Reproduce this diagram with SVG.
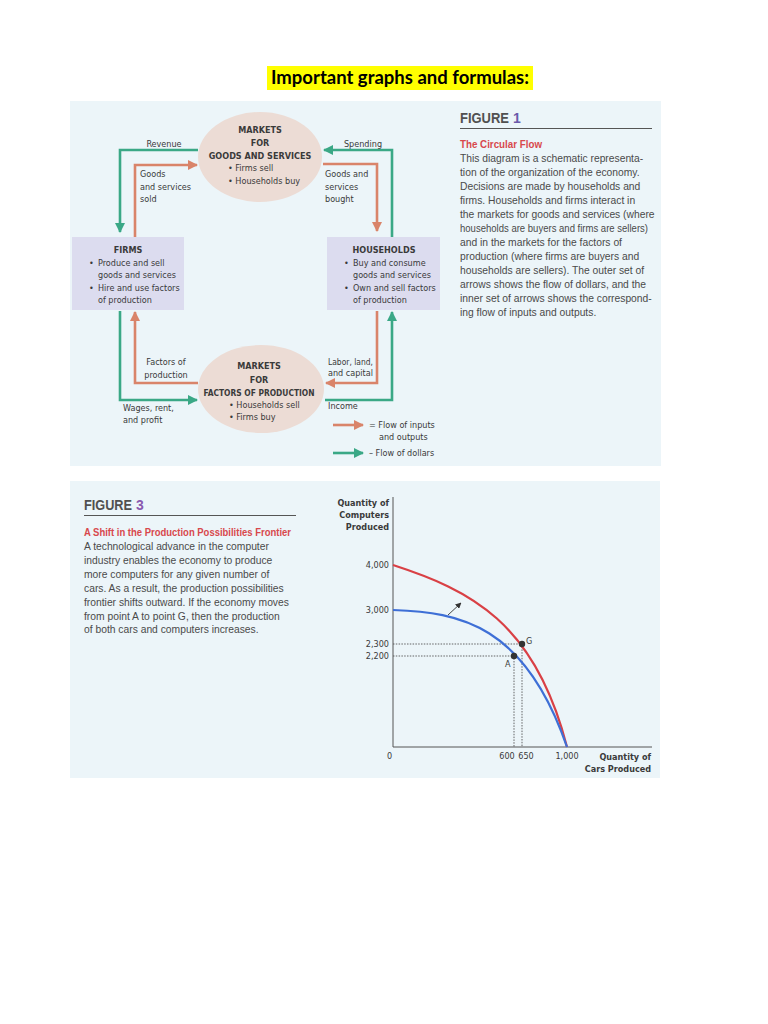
<svg xmlns="http://www.w3.org/2000/svg" width="768" height="1024" viewBox="0 0 768 1024">
<defs>
<style>
.t{font-family:"Liberation Sans Narrow","DejaVu Sans Condensed","Roboto",sans-serif;font-size:9px;fill:#3a3a3a}
.b{font-weight:bold}
.body{font-family:"Liberation Sans","Arial",sans-serif;font-size:10.3px;fill:#4a4a4a}
.fig{font-family:"Liberation Sans","Arial",sans-serif;font-size:14px;font-weight:bold;fill:#505050}
.num1{fill:#6a5aaa}
.num3{fill:#8a5ab0}
.red{fill:#d8484c;font-weight:bold}
.g{fill:none;stroke:#3aa886;stroke-width:2.6}
.o{fill:none;stroke:#d9846a;stroke-width:2.6}
.dot{fill:none;stroke:#555;stroke-width:0.9;stroke-dasharray:1.5 1.3}
</style>
<marker id="ag" viewBox="0 0 10 10" refX="9" refY="5" markerWidth="10" markerHeight="10" markerUnits="userSpaceOnUse" orient="auto"><path d="M0,0 L10,5 L0,10 z" fill="#3aa886"/></marker>
<marker id="ao" viewBox="0 0 10 10" refX="9" refY="5" markerWidth="10" markerHeight="10" markerUnits="userSpaceOnUse" orient="auto"><path d="M0,0 L10,5 L0,10 z" fill="#d9846a"/></marker>
<marker id="ak" viewBox="0 0 10 10" refX="9" refY="5" markerWidth="6" markerHeight="6" markerUnits="userSpaceOnUse" orient="auto"><path d="M0,0 L10,5 L0,10 z" fill="#333"/></marker>
</defs>
<rect width="768" height="1024" fill="#ffffff"/>

<g id="title">
<rect x="267" y="66" width="266" height="24" fill="#ffff00"/>
<text x="400" y="84" text-anchor="middle" font-family="Lato,'Open Sans',sans-serif" font-weight="bold" font-size="18" fill="#000" textLength="258" lengthAdjust="spacingAndGlyphs">Important graphs and formulas:</text>
</g>

<g id="figure1-bg"><rect x="70" y="101" width="591" height="365" fill="#ecf5f9"/></g>

<g id="connectors">
<path class="g" d="M198,150 H120 V232" marker-end="url(#ag)"/>
<path class="o" d="M135,237 V165 H197" marker-end="url(#ao)"/>
<path class="g" d="M392,237 V150 H324" marker-end="url(#ag)"/>
<path class="o" d="M323,164 H377 V231" marker-end="url(#ao)"/>
<path class="o" d="M198,383 H135 V312" marker-end="url(#ao)"/>
<path class="g" d="M120,311 V400 H197" marker-end="url(#ag)"/>
<path class="o" d="M377,311 V383 H326" marker-end="url(#ao)"/>
<path class="g" d="M325,400 H392 V312" marker-end="url(#ag)"/>
<path class="o" d="M333,425 H363" marker-end="url(#ao)"/>
<path class="g" d="M333,453 H363" marker-end="url(#ag)"/>
</g>

<g id="markets-goods">
<ellipse cx="260" cy="157" rx="62" ry="45" fill="#ecdcd5"/>
<text class="t b" x="260" y="133" text-anchor="middle">MARKETS</text>
<text class="t b" x="260" y="146" text-anchor="middle">FOR</text>
<text class="t b" x="260" y="159" text-anchor="middle">GOODS AND SERVICES</text>
<text class="t" x="228" y="171">•  Firms sell</text>
<text class="t" x="228" y="184">•  Households buy</text>
</g>

<g id="firms">
<rect x="72" y="237" width="112" height="73" fill="#dcdcef"/>
<text class="t b" x="128" y="253" text-anchor="middle">FIRMS</text>
<text class="t" x="89" y="265.5">•</text><text class="t" x="98" y="265.5">Produce and sell</text>
<text class="t" x="98" y="278">goods and services</text>
<text class="t" x="89" y="290.5">•</text><text class="t" x="98" y="290.5">Hire and use factors</text>
<text class="t" x="98" y="303">of production</text>
</g>

<g id="households">
<rect x="327" y="237" width="113" height="73" fill="#dcdcef"/>
<text class="t b" x="384" y="253" text-anchor="middle">HOUSEHOLDS</text>
<text class="t" x="344" y="265.5">•</text><text class="t" x="353" y="265.5">Buy and consume</text>
<text class="t" x="353" y="278">goods and services</text>
<text class="t" x="344" y="290.5">•</text><text class="t" x="353" y="290.5">Own and sell factors</text>
<text class="t" x="353" y="303">of production</text>
</g>

<g id="markets-factors">
<ellipse cx="261" cy="389" rx="63" ry="44" fill="#ecdcd5"/>
<text class="t b" x="259" y="369" text-anchor="middle">MARKETS</text>
<text class="t b" x="259" y="382.5" text-anchor="middle">FOR</text>
<text class="t b" x="259" y="396" text-anchor="middle" textLength="111" lengthAdjust="spacingAndGlyphs">FACTORS OF PRODUCTION</text>
<text class="t" x="229" y="408">•  Households sell</text>
<text class="t" x="229" y="420">•  Firms buy</text>
</g>

<g id="flow-labels">
<text class="t" x="164" y="147" text-anchor="middle">Revenue</text>
<text class="t" x="140" y="177">Goods</text>
<text class="t" x="140" y="190">and services</text>
<text class="t" x="140" y="202">sold</text>
<text class="t" x="363" y="147" text-anchor="middle">Spending</text>
<text class="t" x="325" y="177">Goods and</text>
<text class="t" x="325" y="190">services</text>
<text class="t" x="325" y="202">bought</text>
<text class="t" x="166" y="365" text-anchor="middle">Factors of</text>
<text class="t" x="166" y="378" text-anchor="middle">production</text>
<text class="t" x="123" y="411">Wages, rent,</text>
<text class="t" x="123" y="423">and profit</text>
<text class="t" x="328" y="364.5" textLength="45" lengthAdjust="spacingAndGlyphs">Labor, land,</text>
<text class="t" x="328" y="376">and capital</text>
<text class="t" x="328" y="409">Income</text>
</g>

<g id="legend">
<text class="t" x="369" y="428">= Flow of inputs</text>
<text class="t" x="379" y="440">and outputs</text>
<text class="t" x="369" y="456">– Flow of dollars</text>
</g>

<g id="figure1-caption">
<text class="fig" x="460" y="123" textLength="49" lengthAdjust="spacingAndGlyphs">FIGURE</text>
<text class="fig num1" x="513" y="123">1</text>
<line x1="460" y1="128.5" x2="652" y2="128.5" stroke="#555" stroke-width="1"/>
<text class="body red" x="460" y="148" font-size="11" textLength="82" lengthAdjust="spacingAndGlyphs">The Circular Flow</text>
<text class="body" x="460" y="161.5">This diagram is a schematic representa-</text>
<text class="body" x="460" y="175.5">tion of the organization of the economy.</text>
<text class="body" x="460" y="189.5">Decisions are made by households and</text>
<text class="body" x="460" y="203.5">firms. Households and firms interact in</text>
<text class="body" x="460" y="217.5">the markets for goods and services (where</text>
<text class="body" x="460" y="231.5" textLength="188" lengthAdjust="spacingAndGlyphs">households are buyers and firms are sellers)</text>
<text class="body" x="460" y="245.5">and in the markets for the factors of</text>
<text class="body" x="460" y="259.5">production (where firms are buyers and</text>
<text class="body" x="460" y="273.5">households are sellers). The outer set of</text>
<text class="body" x="460" y="287.5">arrows shows the flow of dollars, and the</text>
<text class="body" x="460" y="301.5">inner set of arrows shows the correspond-</text>
<text class="body" x="460" y="316">ing flow of inputs and outputs.</text>
</g>

<g id="figure3-bg"><rect x="70" y="481" width="590" height="297" fill="#ecf5f9"/></g>

<g id="figure3-caption">
<text class="fig" x="84" y="510" textLength="48" lengthAdjust="spacingAndGlyphs">FIGURE</text>
<text class="fig num3" x="136" y="510">3</text>
<line x1="84" y1="515.5" x2="296" y2="515.5" stroke="#555" stroke-width="1"/>
<text class="body red" x="84" y="536" textLength="207" lengthAdjust="spacingAndGlyphs">A Shift in the Production Possibilities Frontier</text>
<text class="body" x="84" y="549.5">A technological advance in the computer</text>
<text class="body" x="84" y="563.5">industry enables the economy to produce</text>
<text class="body" x="84" y="577.5">more computers for any given number of</text>
<text class="body" x="84" y="591.5">cars. As a result, the production possibilities</text>
<text class="body" x="84" y="605.5">frontier shifts outward. If the economy moves</text>
<text class="body" x="84" y="619.5">from point A to point G, then the production</text>
<text class="body" x="84" y="633">of both cars and computers increases.</text>
</g>

<g id="ppf-graph">
<line x1="393" y1="497" x2="393" y2="747" stroke="#555" stroke-width="1"/>
<line x1="393" y1="747" x2="652" y2="747" stroke="#555" stroke-width="1"/>
<text class="t b" x="389" y="506" text-anchor="end">Quantity of</text>
<text class="t b" x="389" y="518" text-anchor="end">Computers</text>
<text class="t b" x="389" y="530" text-anchor="end">Produced</text>
<text class="t" x="389" y="568" text-anchor="end">4,000</text>
<text class="t" x="389" y="613" text-anchor="end">3,000</text>
<text class="t" x="389" y="647" text-anchor="end">2,300</text>
<text class="t" x="389" y="659" text-anchor="end">2,200</text>
<path class="dot" d="M393,644 H522 V747 M393,656 H514 V747"/>
<path d="M393,565 C470,590 535,622 567,747" fill="none" stroke="#d94045" stroke-width="2.2"/>
<path d="M393,610 C460,612 525,625 567,747" fill="none" stroke="#3e6fd6" stroke-width="2.2"/>
<line x1="448" y1="615" x2="461" y2="603" stroke="#333" stroke-width="0.9" marker-end="url(#ak)"/>
<circle cx="522" cy="644" r="3.2" fill="#333"/>
<circle cx="514" cy="656" r="3.2" fill="#333"/>
<text class="t" x="526" y="644">G</text>
<text class="t" x="505" y="667">A</text>
<text class="t" x="387" y="759">0</text>
<text class="t" x="507" y="759" text-anchor="middle">600</text>
<text class="t" x="526" y="759" text-anchor="middle">650</text>
<text class="t" x="567" y="759" text-anchor="middle">1,000</text>
<text class="t b" x="651" y="760" text-anchor="end">Quantity of</text>
<text class="t b" x="651" y="772" text-anchor="end">Cars Produced</text>
</g>
</svg>
